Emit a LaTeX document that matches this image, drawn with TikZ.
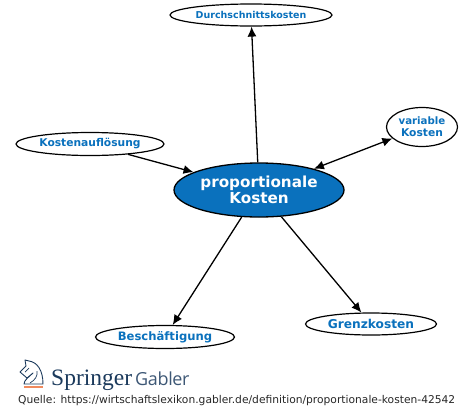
\documentclass[tikz,border=0pt]{standalone}
\usepackage{fontspec}
\setmainfont{DejaVu Sans}
\newfontfamily\springerfont{Liberation Serif}
\newfontfamily\gablerfont{Open Sans}
\usetikzlibrary{shapes.geometric,arrows.meta}
\definecolor{sblue}{HTML}{0A71BD}
\definecolor{snavy}{HTML}{1B3A5C}
\definecolor{sorange}{HTML}{F08A5D}
\tikzset{
  leaf/.style={ellipse,draw=black,fill=white,line width=1.2pt,inner sep=0pt,align=center,text=sblue,font=\bfseries\fontsize{10.7}{12}\selectfont},
  hub/.style={ellipse,draw=black,fill=sblue,line width=1.3pt,inner sep=0pt,align=center,text=white,font=\bfseries\fontsize{15.2}{16.5}\selectfont,minimum width=170pt,minimum height=54pt},
  link/.style={line width=1.3pt,-{Latex[length=10pt,width=9pt]}},
  biglink/.style={line width=1.3pt,{Latex[length=10pt,width=9pt]}-{Latex[length=10pt,width=9pt]}},
}
\begin{document}
\begin{tikzpicture}[x=1pt,y=-1pt]
\useasboundingbox (0,0) rectangle (474,418);
\node[hub] (p) at (259,190) {proportionale\\Kosten};
\node[leaf,minimum width=162pt,minimum height=22pt] (d) at (251,15) {\fontsize{9.5}{10}\selectfont Durchschnittskosten};
\node[leaf,minimum width=71pt,minimum height=39pt] (v) at (422,127) {\fontsize{10.2}{11.5}\selectfont variable\\Kosten};
\node[leaf,minimum width=148pt,minimum height=23pt] (k) at (90,144) {Kostenauflösung};
\node[leaf,minimum width=139pt,minimum height=23pt] (b) at (165,337) {\fontsize{11.6}{13}\selectfont Beschäftigung};
\node[leaf,minimum width=131pt,minimum height=22pt] (g) at (371,324) {\fontsize{12.2}{13}\selectfont Grenzkosten};
\draw[link] (p) -- (d);
\draw[link] (k) -- (p);
\draw[biglink] (p) -- (v);
\draw[link] (p) -- (b);
\draw[link] (p) -- (g);
% logo
\draw[snavy,line width=0.9pt,line join=round,fill=white]
  (25,360) -- (29,361) .. controls (37,362) and (43,370) .. (43,384)
  -- (24,384) .. controls (24,380) and (29,377) .. (33,373)
  -- (27,378) -- (20,372) -- (26,366) -- cycle;
\draw[snavy,line width=0.7pt] (29,368) -- (25,372) (37,371) .. controls (38,376) and (35,380) .. (30,383);
\fill[sorange] (23.5,385.5) rectangle (43,388);
\node[anchor=base west,inner sep=0pt,text=snavy,font=\springerfont\fontsize{23.5}{24}\selectfont] (s) at (51,385) {Springer};
\node[anchor=base west,inner sep=0pt,text=snavy!85,font=\gablerfont\fontsize{18}{24}\selectfont\addfontfeatures{LetterSpace=-2}] (ga) at (135,385) {Gabler};
\node[anchor=base west,inner sep=0pt,text=black!85,font=\fontsize{10.7}{11}\selectfont] (q) at (18,403) {Quelle: https://wirtschaftslexikon.gabler.de/definition/proportionale-kosten-42542};
\end{tikzpicture}
\end{document}
